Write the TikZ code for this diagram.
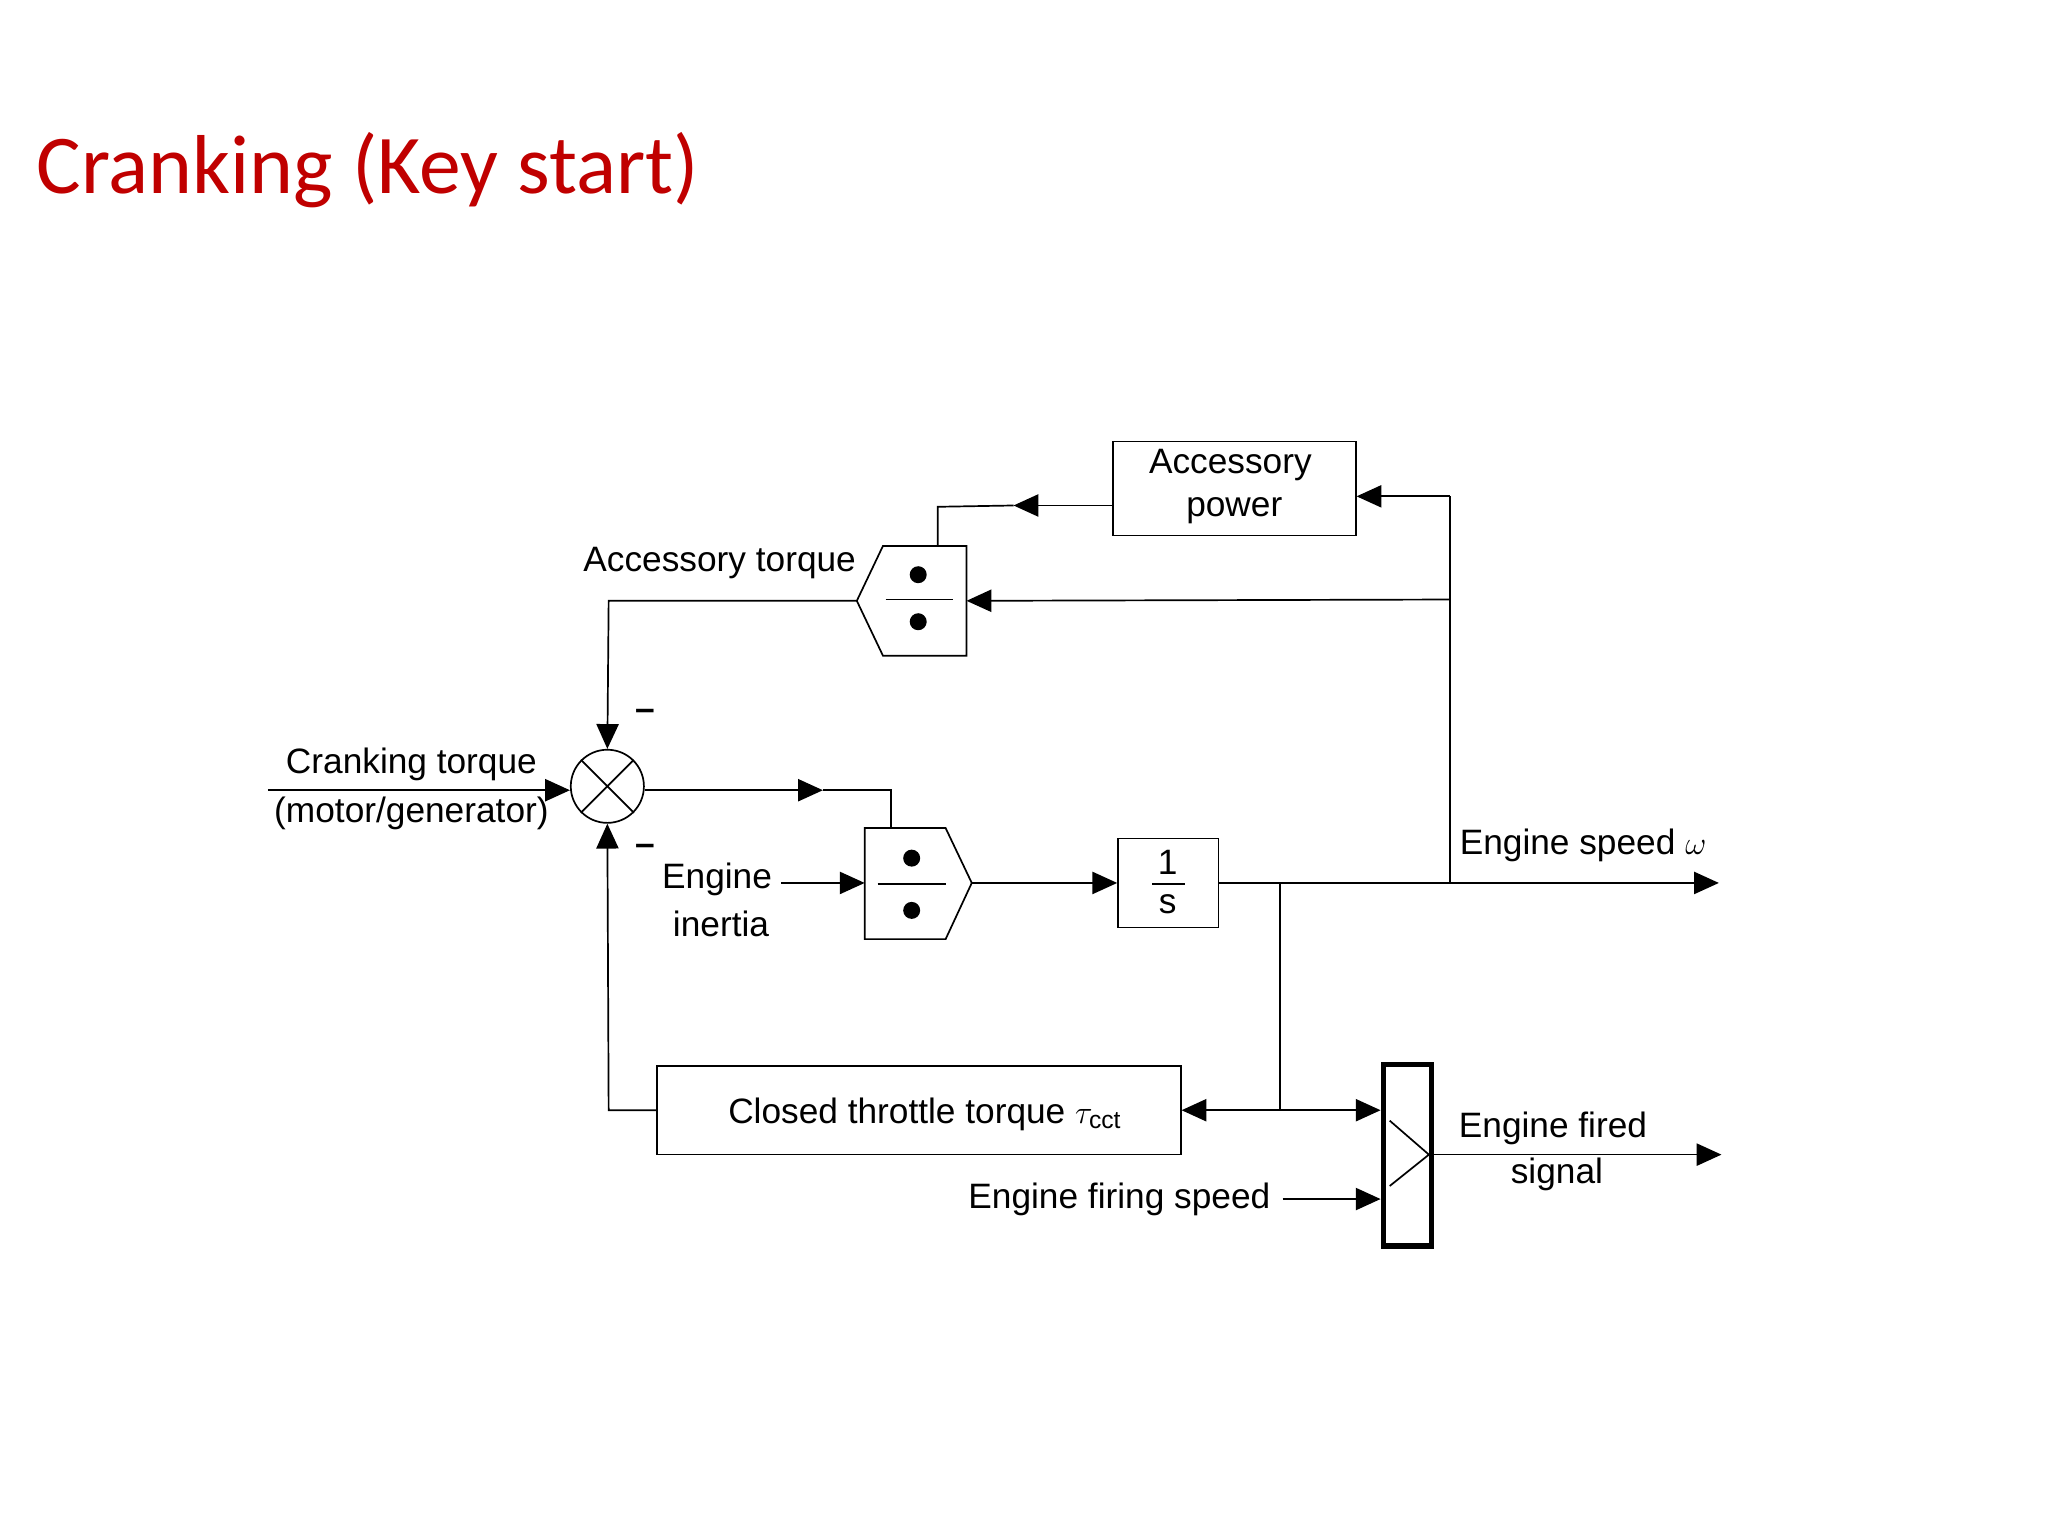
\documentclass[tikz,border=0pt]{standalone}
\usepackage{fontspec}
\setmainfont{Liberation Sans}
\newfontfamily\titlefont{Carlito}
\usetikzlibrary{arrows.meta}
\definecolor{titlered}{RGB}{192,0,0}
\begin{document}
\begin{tikzpicture}[x=1pt,y=-1pt,
  ln/.style={line width=1.3pt},
  arr/.style={ln,-{Triangle[length=19pt,width=17pt]}},
  blk/.style={draw,line width=1.3pt,inner sep=0pt},
  lbl/.style={font=\fontsize{27}{30}\selectfont,inner sep=0pt},
  dot/.style={circle,fill,inner sep=0pt,minimum size=13pt}]
\useasboundingbox (0,0) rectangle (1568,1176);
\node[anchor=base west,text=titlered,inner sep=0pt,font=\titlefont\fontsize{64}{66}\selectfont] (title) at (28,148) {Cranking (Key start)};
% blocks
\node[blk,minimum width=186pt,minimum height=72pt] (acc) at (945,374) {};
\node[lbl] (acct1) at (942,356) {Accessory};
\node[lbl] (acct2) at (945,391) {power};
\node[blk,minimum width=77pt,minimum height=68pt] (int) at (894.5,676) {};
\node[lbl] (one) at (894,660) {1};
\node[lbl] (s) at (894,692) {s};
\draw[ln] (882,677) -- (907,677);
\node[blk,minimum width=401pt,minimum height=68pt] (ct) at (703.5,850) {};
\node[lbl] (ctt) at (708,853) {Closed throttle torque $\tau_{\mathrm{cct}}$};
\node[draw,line width=4pt,minimum width=37pt,minimum height=139pt,inner sep=0pt] (cmp) at (1077.5,884.5) {};
\draw[line width=1.3pt] (1064,858) -- (1094,884) -- (1064,908);
\node[draw,circle,line width=1.3pt,minimum size=56pt,inner sep=0pt] (sum) at (465,602) {};
\draw[line width=1.3pt] (sum.45) -- (sum.225) (sum.135) -- (sum.315);
% divider 1
\coordinate (d1L) at (656,460); \coordinate (d1T) at (718,418); \coordinate (d1R) at (740,460);
\draw[ln] (656,460) -- (676,418) -- (740,418) -- (740,502) -- (676,502) -- cycle;
\node[dot] (d1a) at (703,440) {}; \node[dot] (d1b) at (703,476) {};
\draw[ln] (678,459) -- (730,459);
% divider 2
\coordinate (d2L) at (662,676); \coordinate (d2T) at (682,634); \coordinate (d2R) at (744,676);
\draw[ln] (662,634) -- (724,634) -- (744,676) -- (724,719) -- (662,719) -- cycle;
\node[dot] (d2a) at (698,657) {}; \node[dot] (d2b) at (698,697) {};
\draw[ln] (672,677) -- (724,677);
% connections
\coordinate (fb) at (1110,676); \coordinate (fbtop) at (1110,380);
\coordinate (br) at (980,676); \coordinate (brb) at (980,850);
\coordinate (out) at (1316,676);
\draw[ln] (int.east) -- (fb);
\draw[arr] (fb) -- (out);
\draw[ln] (fb) -- (fbtop);
\draw[arr] (fbtop) -- (acc.east|-fbtop);
\draw[arr] (1110,459) -- (d1R);
\coordinate (m1) at (776,387);
\draw[arr] (acc.west|-m1) -- (m1);
\draw[ln] (m1) -- (718,388) -- (d1T);
\draw[arr] (d1L) -- (466,460) -- (sum.north);
\coordinate (cin) at (205,605);
\draw[arr] (cin) -- (sum.west|-cin);
\coordinate (m2) at (630,605);
\draw[arr] (sum.east|-m2) -- (m2);
\draw[ln] (m2) -- (682,605) -- (d2T);
\coordinate (ei) at (598,676);
\draw[arr] (ei) -- (d2L);
\draw[arr] (d2R) -- (int.west);
\draw[ln] (br) -- (brb);
\draw[arr] (brb) -- (ct.east|-brb);
\draw[arr] (brb) -- (cmp.west|-brb);
\draw[arr] (ct.west) -- (466,850) -- (sum.south);
\coordinate (efs) at (982,918);
\draw[arr] (efs) -- (cmp.west|-efs);
\coordinate (fo) at (1318,884);
\draw[arr] (cmp.east|-fo) -- (fo);
% labels
\node[lbl] (mi1) at (494,547) {\textbf{--}};
\node[lbl] (mi2) at (494,651) {\textbf{--}};
\node[lbl] (at) at (551,431) {Accessory torque};
\node[lbl] (c1) at (315,585) {Cranking torque};
\node[lbl] (c2) at (315,623) {(motor/generator)};
\node[lbl] (e1) at (549,673) {Engine};
\node[lbl] (e2) at (552,707) {inertia};
\node[lbl] (es) at (1212,647) {Engine speed $\omega$};
\node[lbl] (f1) at (1189,864) {Engine fired};
\node[lbl] (f2) at (1192,899) {signal};
\node[lbl] (fs) at (857,918) {Engine firing speed};
\end{tikzpicture}
\end{document}
